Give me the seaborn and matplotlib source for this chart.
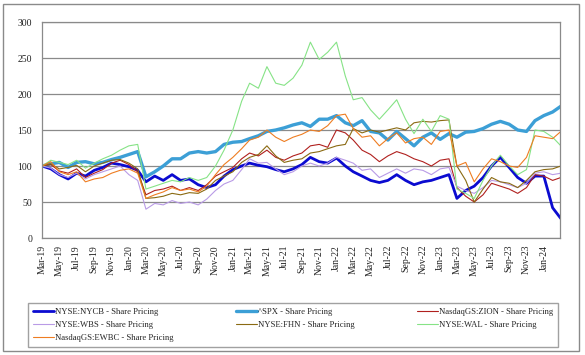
import pandas as pd
import seaborn as sns
import matplotlib.pyplot as plt
import matplotlib.dates as mdates
from matplotlib.patches import Rectangle

# monthly readings, Mar-19 .. Mar-24 (rows of 10 months)
months = pd.date_range('2019-03-01', '2024-03-01', freq='MS')

nycb = [100, 96, 88, 82, 90, 86, 94, 98, 104, 102,
        99, 94, 78, 86, 80, 88, 80, 82, 74, 70,
        74, 86, 95, 100, 104, 101, 99, 95, 92, 96,
        102, 112, 106, 104, 111, 100, 92, 86, 80, 77,
        80, 88, 80, 74, 78, 80, 84, 88, 55, 66,
        72, 84, 100, 112, 98, 84, 76, 86, 86, 42,
        27]
spx = [100, 103, 105, 98, 105, 106, 103, 105, 109, 112,
       116, 120, 85, 92, 100, 110, 110, 118, 120, 118,
       120, 130, 133, 134, 138, 142, 148, 150, 153, 157,
       160, 155, 165, 165, 170, 160, 156, 163, 148, 146,
       136, 148, 138, 128, 140, 146, 137, 145, 140, 147,
       148, 152, 158, 162, 158, 150, 148, 163, 170, 175,
       183]
zion = [100, 102, 93, 90, 96, 84, 90, 95, 104, 108,
        102, 92, 60, 66, 68, 72, 66, 70, 66, 74,
        86, 92, 98, 110, 118, 114, 122, 112, 108, 114,
        118, 128, 130, 126, 150, 146, 136, 122, 116, 106,
        114, 120, 116, 110, 106, 100, 108, 110, 70, 58,
        50, 60, 76, 72, 68, 62, 70, 88, 86, 80,
        84]
wbs = [100, 97, 88, 84, 90, 82, 88, 92, 96, 100,
       88, 80, 40, 48, 46, 52, 48, 50, 46, 54,
       66, 75, 80, 95, 110, 104, 105, 96, 88, 92,
       100, 104, 100, 104, 112, 108, 104, 94, 96, 84,
       90, 96, 90, 96, 94, 88, 96, 98, 72, 66,
       62, 70, 80, 78, 74, 70, 76, 90, 92, 88,
       90]
fhn = [100, 103, 96, 98, 101, 92, 100, 104, 108, 109,
       104, 96, 55, 56, 58, 62, 60, 63, 62, 68,
       80, 86, 92, 105, 112, 116, 128, 114, 105, 108,
       110, 118, 120, 124, 128, 130, 152, 146, 150, 147,
       150, 153, 150, 160, 162, 161, 163, 164, 100, 80,
       50, 68, 84, 78, 76, 70, 80, 92, 95, 96,
       100]
wal = [100, 108, 105, 102, 108, 97, 104, 110, 115, 122,
       128, 130, 68, 72, 76, 80, 78, 84, 80, 84,
       100, 122, 150, 190, 215, 208, 238, 215, 212, 222,
       240, 272, 248, 258, 272, 225, 192, 195, 178, 165,
       178, 192, 165, 145, 165, 148, 170, 165, 68, 62,
       55, 80, 100, 115, 100, 88, 95, 150, 148, 140,
       128]
ewbc = [100, 106, 92, 88, 92, 78, 82, 84, 90, 94,
        96, 90, 55, 60, 64, 70, 66, 68, 64, 72,
        88, 102, 112, 124, 136, 140, 150, 140, 134, 140,
        144, 150, 148, 156, 170, 172, 152, 140, 142, 128,
        138, 146, 132, 138, 140, 130, 148, 150, 100, 105,
        78, 96, 110, 106, 100, 98, 112, 142, 140, 138,
        148]

series = [
    ('NYSE:NYCB - Share Pricing', nycb, '#0B0BD0', 2.0),
    ('^SPX - Share Pricing', spx, '#3C9FD6', 2.4),
    ('NasdaqGS:ZION - Share Pricing', zion, '#B0201E', 0.8),
    ('NYSE:WBS - Share Pricing', wbs, '#B99BE6', 0.8),
    ('NYSE:FHN - Share Pricing', fhn, '#8A6A12', 0.8),
    ('NYSE:WAL - Share Pricing', wal, '#86E386', 0.8),
    ('NasdaqGS:EWBC - Share Pricing', ewbc, '#EE7D22', 0.8),
]

sns.set_style('white')
plt.rcParams['font.family'] = ['Liberation Serif', 'DejaVu Serif']

fig = plt.figure(figsize=(5.85, 3.55), dpi=100)
ax = fig.add_axes([42 / 585, 1 - 238 / 355, (560 - 42) / 585, (238 - 22) / 355])

handles = []
for name, vals, col, lw in series:
    sns.lineplot(x=months, y=vals, ax=ax, color=col, lw=lw, legend=False)
    handles.append(ax.lines[-1])
labels = [s[0] for s in series]

ax.set_ylim(0, 300)
ax.set_yticks(range(0, 301, 50))
ax.set_xlim(months[0], pd.Timestamp('2024-02-27'))
ax.xaxis.set_major_locator(mdates.MonthLocator(bymonth=[1, 3, 5, 7, 9, 11]))
ax.xaxis.set_major_formatter(mdates.DateFormatter('%b-%y'))
ax.set_xlabel('')
ax.set_ylabel('')
ax.yaxis.grid(True, color='#8a8a8a', lw=0.9)
ax.xaxis.grid(False)
ax.set_axisbelow(True)
for sp in ax.spines.values():
    sp.set_color('#8a8a8a')
    sp.set_linewidth(0.9)
ax.tick_params(axis='both', labelsize=7, color='#8a8a8a', length=3, width=0.8,
               direction='out', pad=2, labelcolor='#222222')
ax.tick_params(axis='y', pad=4)
ax.tick_params(axis='x', labelrotation=90)

# legend in row order like the original
order = [0, 3, 6, 1, 4, 2, 5]
fig.legend([handles[i] for i in order], [labels[i] for i in order],
           ncol=3, loc='lower left', mode='expand',
           bbox_to_anchor=(28 / 585, 1 - 347 / 355, (558 - 28) / 585, 44 / 355),
           frameon=True, fancybox=False, edgecolor='#8a8a8a', fontsize=6.2,
           handlelength=2.4, handletextpad=0.1, labelspacing=0.55,
           borderpad=0.6, borderaxespad=0)

fig.add_artist(Rectangle((3 / 585, 4 / 355), 576 / 585, 347 / 355,
                         transform=fig.transFigure, fill=False,
                         edgecolor='#8a8a8a', lw=1))

fig.savefig('out.png', dpi=100)
